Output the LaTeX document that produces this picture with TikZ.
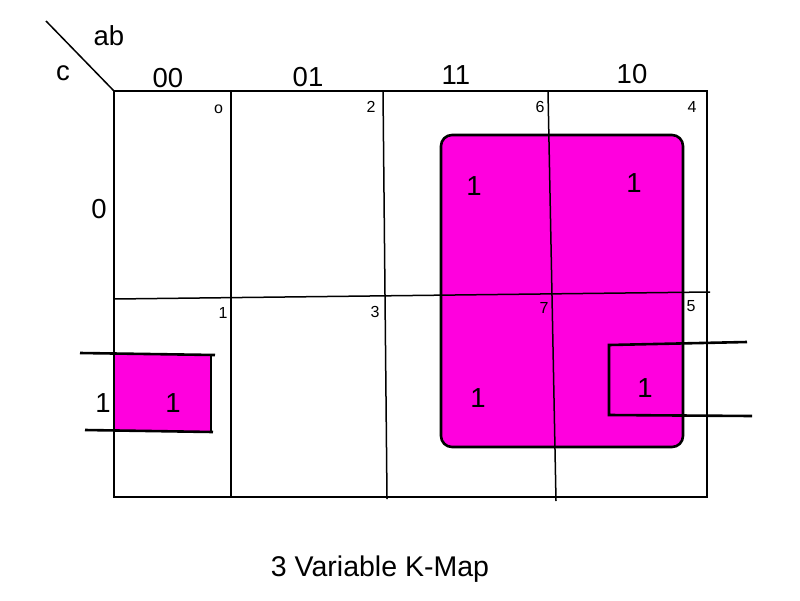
\documentclass[tikz,border=0pt]{standalone}
\usepackage{fontspec}
\setmainfont{Liberation Sans}
\definecolor{kmag}{RGB}{255,0,222}
\begin{document}
\begin{tikzpicture}[x=1pt,y=-1pt,
  big/.style={font=\fontsize{27.5}{30}\selectfont,anchor=base,inner sep=0pt},
  small/.style={font=\fontsize{16}{18}\selectfont,anchor=base,inner sep=0pt},
  grid/.style={line width=1.5pt,black},
  loopline/.style={line width=2.6pt,black}]
\useasboundingbox (0,0) rectangle (800,600);
% group fills
\draw[loopline,fill=kmag,rounded corners=11pt] (441,135) rectangle (683,447);
\fill[kmag] (114,355) rectangle (211,431);
% grid
\draw[grid] (114,91) rectangle (707,497);
\draw[grid] (46,21) -- (114,91);
\draw[grid] (231,91) -- (231,497);
\draw[grid] (383,91) -- (387,499);
\draw[grid] (548,91) -- (556,501);
\draw[grid] (114,299) -- (710,292);
% left small group
\draw[loopline] (80,353) -- (215,355);
\draw[loopline] (85,430) -- (213,432);
\draw[loopline] (211,355) -- (211,432);
% right small group
\draw[loopline] (747,342) -- (609,345) -- (609,415) -- (752,416);
% labels
\node[big] (ab) at (109,45) {ab};
\node[big] (c) at (63,80) {c};
\node[big] (h00) at (168,87) {00};
\node[big] (h01) at (308,86) {01};
\node[big] (h11) at (456,84) {11};
\node[big] (h10) at (632,83) {10};
\node[big] (r0) at (99,218) {0};
\node[big] (r1) at (103,412) {1};
\node[big] (v1) at (173,412) {1};
\node[big] (v6) at (474,195) {1};
\node[big] (v4) at (634,192) {1};
\node[big] (v7) at (478,407) {1};
\node[big] (v5) at (645,397) {1};
\node[small] (n0) at (218.5,113) {o};
\node[small] (n2) at (371,112) {2};
\node[small] (n6) at (540,112) {6};
\node[small] (n4) at (692,112) {4};
\node[small] (n1) at (223,318) {1};
\node[small] (n3) at (375,317) {3};
\node[small] (n7) at (544,313) {7};
\node[small] (n5) at (691,311) {5};
\node[big,font=\fontsize{28.5}{31}\selectfont] (title) at (380,576) {3 Variable K-Map};
\end{tikzpicture}
\end{document}
